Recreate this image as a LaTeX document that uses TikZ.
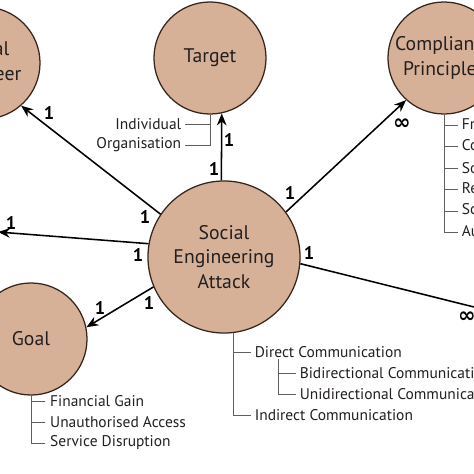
\documentclass[tikz,border=0pt]{standalone}
\usepackage{fontspec}
\setmainfont{PT Sans}
\newfontfamily\symfont{DejaVu Sans}
\usetikzlibrary{arrows.meta}

\definecolor{blobfill}{RGB}{214,177,152}
\definecolor{blobline}{RGB}{55,38,30}
\definecolor{inkdark}{RGB}{35,31,32}
\definecolor{treegray}{RGB}{95,95,95}

\newcommand{\manysym}{{\symfont\bfseries\fontsize{15}{15}\selectfont ∞}}

\tikzset{
  concept/.style={circle, draw=blobline, line width=0.9pt, fill=blobfill, text=inkdark,
    align=center, inner sep=0pt, font=\fontsize{14}{17.5}\selectfont},
  relation/.style={-{Stealth[length=3mm,width=2.4mm]}, line width=1.1pt},
  card/.style={font=\fontsize{13}{15}\selectfont\bfseries, text=black, inner sep=0pt},
  item/.style={font=\fontsize{11}{13}\selectfont, text=inkdark, inner sep=1pt, inner xsep=2.5pt},
  branch/.style={draw=treegray, line width=0.7pt}
}

\begin{document}
\begin{tikzpicture}[x=0.025cm, y=-0.025cm]
  \useasboundingbox (0,0) rectangle (474,474);
  \clip (0,0) rectangle (474,474);

  % concepts
  \node[concept, minimum size=3.8cm] (attack) at (224,257) {Social\\Engineering\\Attack};
  \node[concept, minimum size=2.8cm] (target) at (210,58) {Target};
  \node[concept, minimum size=2.8cm] (compliance) at (444,58) {Compliance\\Principles};
  \node[concept, minimum size=2.8cm] (engineer) at (-16,63) {Social\\Engineer};
  \node[concept, minimum size=2.8cm] (goal) at (31,339) {Goal};
  \coordinate (westend) at (-2,232);
  \coordinate (eastend) at (490,311);

  % relations
  \draw[relation] (attack.92) -- (target.-78);
  \draw[relation] (attack.36) -- (compliance.-132);
  \draw[relation] (attack.146) -- (engineer.-49);
  \draw[relation] (attack.170) -- (westend);
  \draw[relation] (attack.-157) -- (goal.12);
  \draw[relation] (attack.-5) -- (eastend);

  % multiplicities
  \node[card] (card-target-a) at (214,169) {1};
  \node[card] (card-target-b) at (229,140) {1};
  \node[card] (card-compl-a) at (290,193) {1};
  \node[card] (card-compl-b) at (402,124) {\manysym};
  \node[card] (card-eng-a) at (145,217) {1};
  \node[card] (card-eng-b) at (49,113) {1};
  \node[card] (card-west-a) at (138,255) {1};
  \node[card] (card-west-b) at (11,223) {1};
  \node[card] (card-goal-a) at (149,303) {1};
  \node[card] (card-goal-b) at (100,308) {1};
  \node[card] (card-east-a) at (309,253) {1};
  \node[card] (card-east-b) at (467,317) {\manysym};

  % target kinds
  \node[item, anchor=east] (individual) at (185,124) {Individual};
  \node[item, anchor=east] (organisation) at (185,145) {Organisation};
  \draw[branch] (target.south) |- (organisation.east);
  \draw[branch] (individual.east) -- (individual.east -| target.south);

  % principles
  \foreach \txt [count=\i] in {Friendship or Liking, Commitment and Consistency,
      Social Proof, Reciprocity, Scarcity, Authority}
    \node[item, anchor=west] (principle\i) at (458,104+21.4*\i) {\txt};
  \draw[branch] (compliance.south) |- (principle6.west);
  \foreach \i in {1,...,5}
    \draw[branch] (principle\i.west) -- (principle\i.west -| compliance.south);

  % goals
  \foreach \txt [count=\i] in {Financial Gain, Unauthorised Access, Service Disruption}
    \node[item, anchor=west, inner xsep=3.5pt] (aim\i) at (45,380+21*\i) {\txt};
  \draw[branch] (goal.south) |- (aim3.west);
  \foreach \i in {1,2}
    \draw[branch] (aim\i.west) -- (aim\i.west -| goal.south);

  % communication
  \node[item, anchor=west] (direct) at (251,352) {Direct Communication};
  \node[item, anchor=west] (bidirectional) at (296,373) {Bidirectional Communication};
  \node[item, anchor=west] (unidirectional) at (296,394) {Unidirectional Communication};
  \node[item, anchor=west] (indirect) at (251,415) {Indirect Communication};
  \coordinate (subroot) at (278,359);
  \draw[branch] (attack.-83) |- (indirect.west);
  \draw[branch] (direct.west) -- (direct.west -| attack.-83);
  \draw[branch] (subroot) |- (unidirectional.west);
  \draw[branch] (bidirectional.west) -- (bidirectional.west -| subroot);
\end{tikzpicture}
\end{document}
